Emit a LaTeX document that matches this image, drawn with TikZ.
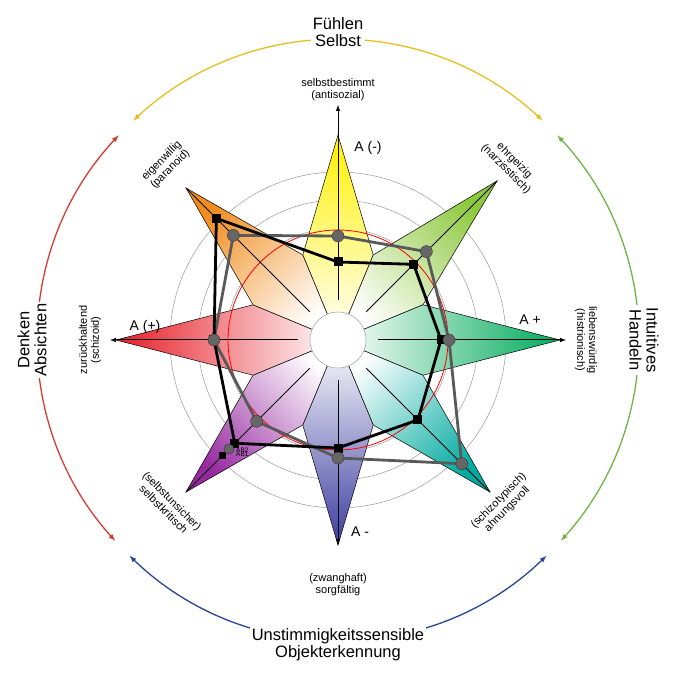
\documentclass[tikz,border=0pt]{standalone}
\usepackage{fontspec}
\setmainfont{Liberation Sans}
\definecolor{cYel}{RGB}{255,240,0}
\definecolor{cLgr}{RGB}{140,200,60}
\definecolor{cGrn}{RGB}{0,170,90}
\definecolor{cTea}{RGB}{0,170,160}
\definecolor{cBlu}{RGB}{60,60,160}
\definecolor{cPur}{RGB}{150,40,160}
\definecolor{cRed}{RGB}{230,30,40}
\definecolor{cOra}{RGB}{240,140,30}
\definecolor{arcY}{RGB}{230,190,30}
\definecolor{arcR}{RGB}{215,60,50}
\definecolor{arcB}{RGB}{40,70,150}
\definecolor{arcG}{RGB}{110,180,70}
\begin{document}
\begin{tikzpicture}[x=1pt,y=1pt,
  big/.style={font=\fontsize{16.5}{17}\selectfont, align=center, fill=white, inner sep=2pt},
  small/.style={font=\fontsize{11}{12}\selectfont, align=center, inner sep=1pt},
  alab/.style={font=\fontsize{14}{15}\selectfont},
  sq/.style={fill=black, minimum size=9pt, inner sep=0pt},
  dot/.style={circle, fill=gray!80!black, draw=gray!40!black, minimum size=12pt, inner sep=0pt},
  ring/.style={line width=1.3pt, <->, >=latex}]
\useasboundingbox (-338,-339) rectangle (336,340);

% grid circles
\foreach \r in {28,56,...,168}
  \draw[gray!80, line width=0.5pt] (0,0) circle (\r);

% star arms
\foreach \a/\c/\R in {90/cYel/205,45/cLgr/225,0/cGrn/222,-45/cTea/215,-90/cBlu/205,-135/cPur/215,180/cRed/222,135/cOra/215}{
  \shade[top color=\c, bottom color=white, shading angle=\a-90, draw=black, line width=0.5pt]
    (0,0) -- (\a-22.5:92) -- (\a:\R) -- (\a+22.5:92) -- cycle;
}
\fill[white] (0,0) circle (28);
\draw[gray!80, line width=0.5pt] (0,0) circle (28);
\draw[red, line width=0.8pt] (0,0) circle (110);

% axes
\foreach \a/\R in {45/225,-45/215,-135/215,135/215}
  \draw[line width=1pt] (\a:40) -- (\a:\R);
\foreach \a/\R in {90/235,0/228,-90/205,180/228}
  \draw[line width=1pt, -latex] (\a:40) -- (\a:\R);

% profile AB2 (grey)
\draw[gray!70!black, line width=2.8pt, line join=round]
  (90:104) -- (45:125) -- (0:111) -- (-45:175) -- (-90:118) -- (-135:115) -- (180:124) -- (135:148) -- cycle;
% profile AB1 (black)
\draw[black, line width=2.8pt, line join=round]
  (90:78) -- (45:107) -- (0:103) -- (-45:113) -- (-90:108) -- (-135:146) -- (180:124) -- (135:172) -- cycle;
\foreach \a/\r [count=\i] in {90/78,45/107,0/103,-45/113,-90/108,-135/146,180/124,135/172}
  \node[sq] (s\i) at (\a:\r) {};
\foreach \a/\r [count=\i] in {90/104,45/125,0/111,-45/175,-90/118,-135/115,180/124,135/148}
  \node[dot] (d\i) at (\a:\r) {};

% legend
\node[sq, minimum size=7pt] (lsq) at (-115,-115) {};
\node[dot, minimum size=10pt] (ldot) at (-109,-109) {};
\node[font=\fontsize{6.5}{6}\selectfont, align=left, inner sep=0pt, anchor=west] (leg) at (-102,-112) {AB2\\[-2pt]AB1};

% outer ring
\draw[ring, arcY] (47:300) arc (47:133:300);
\draw[ring, arcR] (137:300) arc (137:222:300);
\draw[ring, arcB] (226:300) arc (226:314:300);
\draw[ring, arcG] (318:300) arc (318:403:300);

% ring labels
\node[big] (fs) at (0,308) {Fühlen\\Selbst};
\node[big, rotate=90] (da) at (-306,0) {Denken\\Absichten};
\node[big, rotate=-90] (ih) at (306,0) {Intuitives\\Handeln};
\node[big] (uo) at (0,-305) {Unstimmigkeitssensible\\Objekterkennung};

% arm labels
\node[small] (l1) at (0,250) {selbstbestimmt\\(antisozial)};
\node[small, rotate=-45] (l2) at (172,175) {ehrgeizig\\(narzisstisch)};
\node[small, rotate=-90] (l3) at (248,0) {liebenswürdig\\(histrionisch)};
\node[small, rotate=45] (l4) at (165,-165) {(schizotypisch)\\ahnungsvoll};
\node[small] (l5) at (0,-245) {(zwanghaft)\\sorgfältig};
\node[small, rotate=-45] (l6) at (-170,-165) {(selbstunsicher)\\selbstkritisch};
\node[small, rotate=90] (l7) at (-248,0) {zurückhaltend\\(schizoid)};
\node[small, rotate=45] (l8) at (-172,175) {eigenwillig\\(paranoid)};

\node[alab] (am) at (30,192) {A (-)};
\node[alab] (ap) at (-193,13) {A (+)};
\node[alab] (apl) at (192,20) {A +};
\node[alab] (ami) at (22,-192) {A -};
\end{tikzpicture}
\end{document}
